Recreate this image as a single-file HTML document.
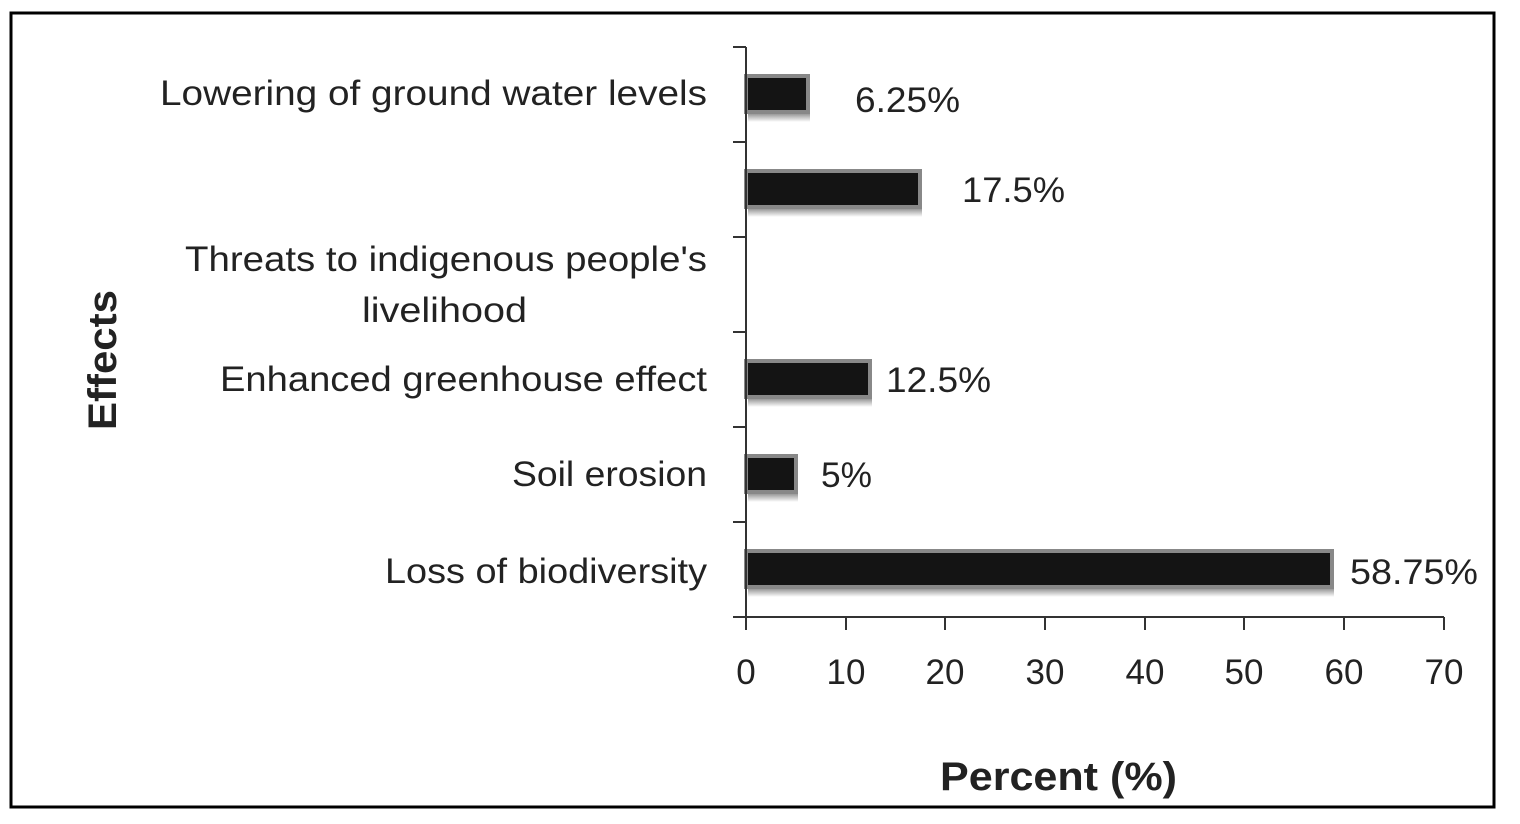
<!DOCTYPE html>
<html><head><style>
html,body{margin:0;padding:0;background:#fff;}
svg text{font-family:"Liberation Sans",sans-serif;fill:#222;}
</style></head><body>
<svg width="1520" height="819" xmlns="http://www.w3.org/2000/svg">
<rect x="11" y="13" width="1483" height="794" fill="#fff" stroke="#000" stroke-width="3"/>
<defs>
<linearGradient id="sh" x1="0" y1="0" x2="0" y2="1"><stop offset="0" stop-color="#999"/><stop offset="1" stop-color="#fff"/></linearGradient>
</defs>
<g stroke="#888" stroke-width="4" fill="#141414">
<rect x="746" y="76" width="62" height="36"/>
<rect x="746" y="171" width="174" height="36"/>
<rect x="746" y="361" width="124" height="36"/>
<rect x="746" y="456" width="50" height="36"/>
<rect x="746" y="551" width="586" height="36"/>
</g>
<g fill="url(#sh)">
<rect x="748" y="114" width="62" height="8"/>
<rect x="748" y="209" width="174" height="8"/>
<rect x="748" y="399" width="124" height="8"/>
<rect x="748" y="494" width="50" height="8"/>
<rect x="748" y="589" width="586" height="8"/>
</g>
<g stroke="#333" stroke-width="2">
<line x1="746" y1="47" x2="746" y2="617"/>
<line x1="733" y1="617" x2="1444" y2="617"/>
<line x1="733" y1="47" x2="746" y2="47"/>
<line x1="733" y1="142" x2="746" y2="142"/>
<line x1="733" y1="237" x2="746" y2="237"/>
<line x1="733" y1="332" x2="746" y2="332"/>
<line x1="733" y1="427" x2="746" y2="427"/>
<line x1="733" y1="522" x2="746" y2="522"/>
<line x1="746" y1="617" x2="746" y2="630"/>
<line x1="846" y1="617" x2="846" y2="630"/>
<line x1="945" y1="617" x2="945" y2="630"/>
<line x1="1045" y1="617" x2="1045" y2="630"/>
<line x1="1145" y1="617" x2="1145" y2="630"/>
<line x1="1244" y1="617" x2="1244" y2="630"/>
<line x1="1344" y1="617" x2="1344" y2="630"/>
<line x1="1444" y1="617" x2="1444" y2="630"/>
</g>
<g font-size="35" text-anchor="middle">
<text x="746" y="684">0</text><text x="846" y="684">10</text><text x="945" y="684">20</text><text x="1045" y="684">30</text><text x="1145" y="684">40</text><text x="1244" y="684">50</text><text x="1344" y="684">60</text><text x="1444" y="684">70</text>
</g>
<g font-size="35" lengthAdjust="spacingAndGlyphs">
<text x="160" y="105" textLength="547" lengthAdjust="spacingAndGlyphs">Lowering of ground water levels</text>
<text x="185" y="271" textLength="522" lengthAdjust="spacingAndGlyphs">Threats to indigenous people's</text>
<text x="362" y="322" textLength="165" lengthAdjust="spacingAndGlyphs">livelihood</text>
<text x="220" y="391" textLength="487" lengthAdjust="spacingAndGlyphs">Enhanced greenhouse effect</text>
<text x="512" y="486" textLength="195" lengthAdjust="spacingAndGlyphs">Soil erosion</text>
<text x="385" y="583" textLength="322" lengthAdjust="spacingAndGlyphs">Loss of biodiversity</text>
<text x="855" y="112" textLength="105" lengthAdjust="spacingAndGlyphs">6.25%</text>
<text x="962" y="202" textLength="103" lengthAdjust="spacingAndGlyphs">17.5%</text>
<text x="886" y="392" textLength="105" lengthAdjust="spacingAndGlyphs">12.5%</text>
<text x="821" y="487" textLength="51" lengthAdjust="spacingAndGlyphs">5%</text>
<text x="1350" y="584" textLength="128" lengthAdjust="spacingAndGlyphs">58.75%</text>
</g>
<text x="940" y="790" font-size="40" font-weight="bold" textLength="237" lengthAdjust="spacingAndGlyphs">Percent (%)</text>
<text transform="translate(116,430) rotate(-90)" font-size="40" font-weight="bold" textLength="140" lengthAdjust="spacingAndGlyphs">Effects</text>
</svg>
</body></html>
